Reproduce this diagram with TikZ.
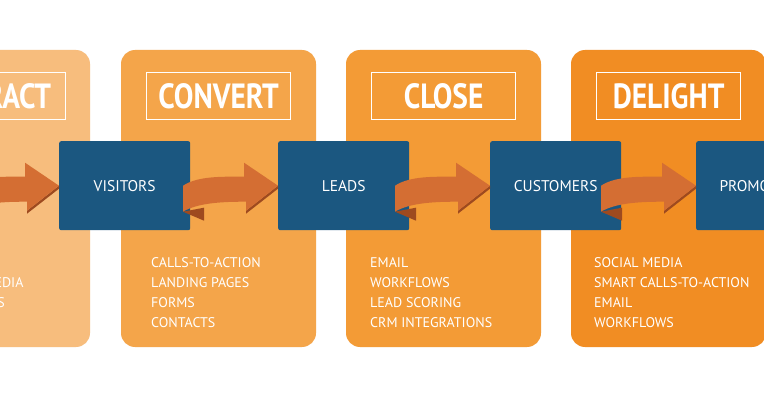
\documentclass[tikz,border=0pt]{standalone}
\usepackage{fontspec}
\setmainfont{PT Sans}
\usetikzlibrary{positioning}
\definecolor{stageA}{HTML}{F7BD7D}
\definecolor{stageB}{HTML}{F4A54A}
\definecolor{stageC}{HTML}{F39B36}
\definecolor{stageD}{HTML}{F18D23}
\definecolor{boxblue}{HTML}{1B5780}
\definecolor{arrowor}{HTML}{D46E33}
\definecolor{arrowdk}{HTML}{9E4A1F}
\tikzset{
  stage/.style={rounded corners=14pt, draw=none},
  title/.style={draw=white, line width=1.3pt, minimum width=144pt, minimum height=47pt, inner sep=0pt,
    text=white, font=\fontsize{35}{35}\selectfont\bfseries, anchor=north west},
  stepbox/.style={fill=boxblue, rounded corners=2pt, minimum width=131pt, minimum height=89pt, inner sep=0pt,
    text=white, font=\fontsize{15.5}{15}\selectfont, anchor=north west},
  items/.style={text=white, font=\fontsize{14}{20}\selectfont, align=left, anchor=north west, inner sep=0pt},
}
\newcommand{\flowarrow}[1]{%
  \begin{scope}[shift={(#1)}]
    \fill[arrowdk] (-95,26) -- (-74,35) -- (-74,22) -- cycle;
    \fill[arrowdk] (-32,25) -- (-32,28) -- (0,3) -- (0,0) -- cycle;
    \fill[arrowor] (-95,0) .. controls (-80,-10) and (-55,-9) .. (-34,-9)
      -- (-34,-23) -- (0,0) -- (-32,25) -- (-32,16)
      .. controls (-55,16) and (-80,17) .. (-95,26) -- cycle;
  \end{scope}}
\begin{document}
\begin{tikzpicture}[x=1pt,y=1pt,yscale=-1]
  \useasboundingbox (0,0) rectangle (764,401);
  \clip (0,0) rectangle (764,401);
  \fill[white] (0,0) rectangle (764,401);

  % stages
  \fill[stage, stageA] (-105,50) rectangle (90,347);
  \fill[stage, stageB] (121,50) rectangle (316,347);
  \fill[stage, stageC] (346,50) rectangle (541,347);
  \fill[stage, stageD] (571,50) rectangle (766,347);

  % titles
  \node[title] (attract) at (-79,72) {\scalebox{0.84}[1]{ATTRACT}};
  \node[title] (convert) at (146,72) {\scalebox{0.84}[1]{CONVERT}};
  \node[title] (close) at (371,72) {\scalebox{0.84}[1]{CLOSE}};
  \node[title] (delight) at (596,72) {\scalebox{0.84}[1]{DELIGHT}};

  % steps
  \node[stepbox] (visitors) at (59,141) {VISITORS};
  \node[stepbox] (leads) at (278,141) {LEADS};
  \node[stepbox] (customers) at (490,141) {CUSTOMERS};
  \node[stepbox] (promoters) at (696,141) {PROMOTERS};

  % arrows
  \flowarrow{visitors.west}
  \flowarrow{leads.west}
  \flowarrow{customers.west}
  \flowarrow{promoters.west}

  % items
  \node[items] (tools1) at (-65,257) {BLOGS\\SOCIAL MEDIA\\KEYWORDS};
  \node[items] (tools2) at (151,257) {CALLS-TO-ACTION\\LANDING PAGES\\FORMS\\CONTACTS};
  \node[items] (tools3) at (370,257) {EMAIL\\WORKFLOWS\\LEAD SCORING\\CRM INTEGRATIONS};
  \node[items] (tools4) at (594,257) {SOCIAL MEDIA\\SMART CALLS-TO-ACTION\\EMAIL\\WORKFLOWS};
\end{tikzpicture}
\end{document}
